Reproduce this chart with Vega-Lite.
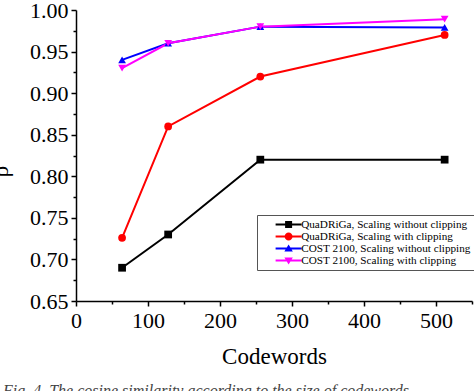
{
  "$schema": "https://vega.github.io/schema/vega-lite/v6.json",
  "width": 396,
  "height": 291,
  "autosize": {"type": "none"},
  "padding": {"left": 76, "top": 10, "right": 2, "bottom": 90},
  "background": "white",
  "config": {
    "view": {"stroke": null},
    "font": "Liberation Serif",
    "axis": {
      "domainColor": "black",
      "domainWidth": 1.5,
      "tickColor": "black",
      "tickWidth": 1.5,
      "labelColor": "black",
      "labelFont": "Liberation Serif",
      "labelFontSize": 22,
      "titleFont": "Liberation Serif",
      "titleFontSize": 23,
      "titleFontWeight": "normal",
      "titleColor": "black",
      "grid": false
    },
    "legend": {
      "title": null,
      "orient": "none",
      "legendX": 181,
      "legendY": 205,
      "direction": "vertical",
      "fillColor": "white",
      "strokeColor": "#555555",
      "padding": 4,
      "labelFont": "Liberation Serif",
      "labelFontSize": 11.2,
      "labelColor": "black",
      "symbolSize": 64,
      "symbolStrokeWidth": 0,
      "symbolOpacity": 1,
      "symbolOffset": 22,
      "labelOffset": 7,
      "rowPadding": 0,
      "labelLimit": 300
    }
  },
  "title": {
    "text": "Fig. 4. The cosine similarity according to the size of codewords.",
    "orient": "bottom",
    "anchor": "start",
    "frame": "group",
    "font": "Liberation Serif",
    "fontSize": 16,
    "fontStyle": "italic",
    "fontWeight": "normal",
    "color": "#444444",
    "offset": 15,
    "dx": -73
  },
  "data": {
    "values": [
      {"series": "QuaDRiGa, Scaling without clipping", "codewords": 64, "rho": 0.69},
      {"series": "QuaDRiGa, Scaling without clipping", "codewords": 128, "rho": 0.73},
      {"series": "QuaDRiGa, Scaling without clipping", "codewords": 256, "rho": 0.82},
      {"series": "QuaDRiGa, Scaling without clipping", "codewords": 512, "rho": 0.82},
      {"series": "QuaDRiGa, Scaling with clipping", "codewords": 64, "rho": 0.726},
      {"series": "QuaDRiGa, Scaling with clipping", "codewords": 128, "rho": 0.86},
      {"series": "QuaDRiGa, Scaling with clipping", "codewords": 256, "rho": 0.92},
      {"series": "QuaDRiGa, Scaling with clipping", "codewords": 512, "rho": 0.97},
      {"series": "COST 2100, Scaling without clipping", "codewords": 64, "rho": 0.94},
      {"series": "COST 2100, Scaling without clipping", "codewords": 128, "rho": 0.96},
      {"series": "COST 2100, Scaling without clipping", "codewords": 256, "rho": 0.98},
      {"series": "COST 2100, Scaling without clipping", "codewords": 512, "rho": 0.979},
      {"series": "COST 2100, Scaling with clipping", "codewords": 64, "rho": 0.93},
      {"series": "COST 2100, Scaling with clipping", "codewords": 128, "rho": 0.96},
      {"series": "COST 2100, Scaling with clipping", "codewords": 256, "rho": 0.98},
      {"series": "COST 2100, Scaling with clipping", "codewords": 512, "rho": 0.989}
    ]
  },
  "encoding": {
    "x": {
      "field": "codewords",
      "type": "quantitative",
      "scale": {"domain": [0, 550], "nice": false},
      "axis": {
        "title": "Codewords",
        "values": [0, 50, 100, 150, 200, 250, 300, 350, 400, 450, 500, 550],
        "labelExpr": "datum.value % 100 == 0 ? datum.label : ''",
        "tickSize": {"condition": {"test": "datum.value % 100 == 0", "value": 5}, "value": 3},
        "labelPadding": 4,
        "labelFlush": false,
        "titlePadding": 14
      }
    },
    "y": {
      "field": "rho",
      "type": "quantitative",
      "scale": {"domain": [0.65, 1.0], "nice": false, "zero": false},
      "axis": {
        "title": "ρ",
        "values": [0.65, 0.675, 0.7, 0.725, 0.75, 0.775, 0.8, 0.825, 0.85, 0.875, 0.9, 0.925, 0.95, 0.975, 1.0],
        "labelExpr": "round(datum.value * 1000) % 50 == 0 ? format(datum.value, '.2f') : ''",
        "tickSize": {"condition": {"test": "round(datum.value * 1000) % 50 == 0", "value": 5}, "value": 3},
        "labelPadding": 3,
        "titleY": 161,
        "titleX": -64,
        "labelFlush": false
      }
    },
    "color": {
      "field": "series",
      "type": "nominal",
      "scale": {
        "domain": ["QuaDRiGa, Scaling without clipping", "QuaDRiGa, Scaling with clipping", "COST 2100, Scaling without clipping", "COST 2100, Scaling with clipping"],
        "range": ["#000000", "#ff0000", "#0000ff", "#ff00ff"]
      }
    }
  },
  "layer": [
    {
      "mark": {"type": "line", "strokeWidth": 2}
    },
    {
      "transform": [{"filter": "datum.series === 'QuaDRiGa, Scaling without clipping'"}],
      "mark": {"type": "point", "filled": true, "size": 60, "opacity": 1, "shape": "square"}
    },
    {
      "transform": [{"filter": "datum.series === 'QuaDRiGa, Scaling with clipping'"}],
      "mark": {"type": "point", "filled": true, "size": 60, "opacity": 1, "shape": "circle"}
    },
    {
      "transform": [{"filter": "datum.series === 'COST 2100, Scaling without clipping'"}],
      "mark": {"type": "point", "filled": true, "size": 60, "opacity": 1, "shape": "triangle-up"}
    },
    {
      "transform": [{"filter": "datum.series === 'COST 2100, Scaling with clipping'"}],
      "mark": {"type": "point", "filled": true, "size": 60, "opacity": 1, "shape": "triangle-down"}
    },
    {
      "mark": {"type": "point", "filled": true, "opacity": 0},
      "encoding": {
        "shape": {
          "field": "series",
          "type": "nominal",
          "scale": {
            "domain": ["QuaDRiGa, Scaling without clipping", "QuaDRiGa, Scaling with clipping", "COST 2100, Scaling without clipping", "COST 2100, Scaling with clipping"],
            "range": [
              "M-3.25,-0.25H3.25V0.25H-3.25Z M-0.875,-0.875H0.875V0.875H-0.875Z",
              "M-3.25,-0.25H3.25V0.25H-3.25Z M-1,0A1,1 0 1,1 1,0A1,1 0 1,1 -1,0Z",
              "M-3.25,-0.25H3.25V0.25H-3.25Z M0,-1L1.06,0.75H-1.06Z",
              "M-3.25,-0.25H3.25V0.25H-3.25Z M0,1L-1.06,-0.75H1.06Z"
            ]
          }
        }
      }
    }
  ]
}
